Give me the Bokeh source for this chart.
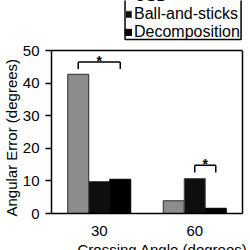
from bokeh.plotting import figure
from bokeh.models import (ColumnDataSource, FactorRange, Range1d, Legend, LegendItem,
                          Title, FixedTicker, Span, LinearAxis, BoxAnnotation)
from bokeh.transform import dodge
from bokeh.core.properties import value
from bokeh.embed import file_html
from bokeh.resources import INLINE

angles = ["30", "60"]
series = ["CSD", "Ball-and-sticks", "Decomposition"]
csd = [42.7, 3.9]
ball_and_sticks = [9.8, 10.7]
decomposition = [10.5, 1.6]
fills = ["#8c8c8c", "#0e0e0e", "#000000"]
outlines = ["#2a2a2a", "#4a4a4a", "#000000"]
y_ticks = [0, 10, 20, 30, 40, 50]
y_max = 50
# significance brackets
sig_angle = ["30", "60"]
sig_from = ["CSD", "Ball-and-sticks"]
sig_to = ["Decomposition", "Decomposition"]
sig_level = [46.5, 14.8]

FONT = "Liberation Sans"
BW = 0.22
FRAME_H = 213      # frame reaches canvas top so the legend can sit above the axes box
AXIS_H = 163       # pixel height of the 0..50 axis span
Y_TOP = y_max * FRAME_H / AXIS_H

src = ColumnDataSource(dict(angle=angles, CSD=csd, BS=ball_and_sticks, DEC=decomposition))

p = figure(frame_width=191, frame_height=FRAME_H, x_range=FactorRange(*angles),
           y_range=Range1d(0, Y_TOP),
           output_backend="svg", toolbar_location=None,
           min_border_left=49, min_border_right=10, min_border_top=0, min_border_bottom=0)

cols = ["CSD", "BS", "DEC"]
renderers = []
for i, (c, f, o) in enumerate(zip(cols, fills, outlines)):
    r = p.vbar(x=dodge("angle", (i - 1) * BW, range=p.x_range), top=c, width=BW, bottom=0,
               source=src, fill_color=f, line_color=o, line_width=1)
    renderers.append(r)

for a, s0, s1, lvl in zip(sig_angle, sig_from, sig_to, sig_level):
    o0 = (series.index(s0) - 1) * BW
    o1 = (series.index(s1) - 1) * BW
    bsrc = ColumnDataSource(dict(a=[a], y=[lvl], yd=[lvl - 2.2], ys=[lvl + 0.3], t=["*"]))
    p.segment(x0=dodge("a", o0, range=p.x_range), x1=dodge("a", o1, range=p.x_range),
              y0="y", y1="y", source=bsrc, line_color="black", line_width=1.5)
    p.segment(x0=dodge("a", o0, range=p.x_range), x1=dodge("a", o0, range=p.x_range),
              y0="y", y1="yd", source=bsrc, line_color="black", line_width=1.5)
    p.segment(x0=dodge("a", o1, range=p.x_range), x1=dodge("a", o1, range=p.x_range),
              y0="y", y1="yd", source=bsrc, line_color="black", line_width=1.5)
    p.text(x=dodge("a", (o0 + o1) / 2, range=p.x_range), y="ys", text="t", source=bsrc,
           text_align="center", text_baseline="alphabetic", text_font=value(FONT),
           text_font_size="14px", text_font_style="bold", text_color="black")

p.xgrid.visible = False
p.ygrid.visible = False
p.outline_line_color = None

p.add_layout(Span(location=y_max, dimension="width", line_color="black", line_width=1.5))
rax = LinearAxis(bounds=(0, y_max), ticker=FixedTicker(ticks=[]), major_tick_out=0,
                 major_tick_in=0, minor_tick_out=0, major_label_standoff=0,
                 axis_line_color="black", axis_line_width=1.5)
p.add_layout(rax, "right")

ya = p.yaxis[0]
ya.bounds = (0, y_max)
ya.ticker = FixedTicker(ticks=y_ticks)
ya.minor_tick_line_color = None
ya.major_tick_out = 6
ya.major_tick_in = 0
ya.major_tick_line_width = 1.5
ya.major_tick_line_color = "black"
ya.axis_line_width = 1.5
ya.major_label_standoff = 6
xa = p.xaxis[0]
xa.major_tick_line_color = None
xa.major_tick_out = 0
xa.axis_line_width = 1.5
xa.major_label_standoff = 12
for ax in (xa, ya):
    ax.major_label_text_font = FONT
    ax.major_label_text_font_size = "15px"
    ax.major_label_text_color = "black"
    ax.axis_line_color = "black"

xt = Title(text="Crossing Angle (degrees)", align="left", offset=26, standoff=0)
xt.text_font = FONT
xt.text_font_size = "15px"
xt.text_font_style = "normal"
xt.text_color = "black"
p.add_layout(xt, "below")
yt = Title(text="Angular Error (degrees)", align="left", offset=-3, standoff=0)
yt.text_font = FONT
yt.text_font_size = "15px"
yt.text_font_style = "normal"
yt.text_color = "black"
p.add_layout(yt, "left")

# legend frame (box around the legend, top edge above the canvas)
p.add_layout(BoxAnnotation(left=0.77, right=1.985, bottom=53.4, top=Y_TOP + 5,
                           fill_alpha=0, line_color="black", line_width=1.5, line_alpha=1,
                           level="overlay"))

legend = Legend(items=[LegendItem(label=s, renderers=[r]) for s, r in zip(series, renderers)],
                location=(73, 172), orientation="vertical",
                label_text_font=FONT, label_text_font_size="16px", label_text_color="black",
                glyph_width=8, glyph_height=8, label_height=16, label_standoff=2,
                spacing=-3, padding=1, margin=0,
                border_line_color=None, background_fill_alpha=0)
p.add_layout(legend, "center")

open("out.html", "w").write(file_html(p, INLINE))
